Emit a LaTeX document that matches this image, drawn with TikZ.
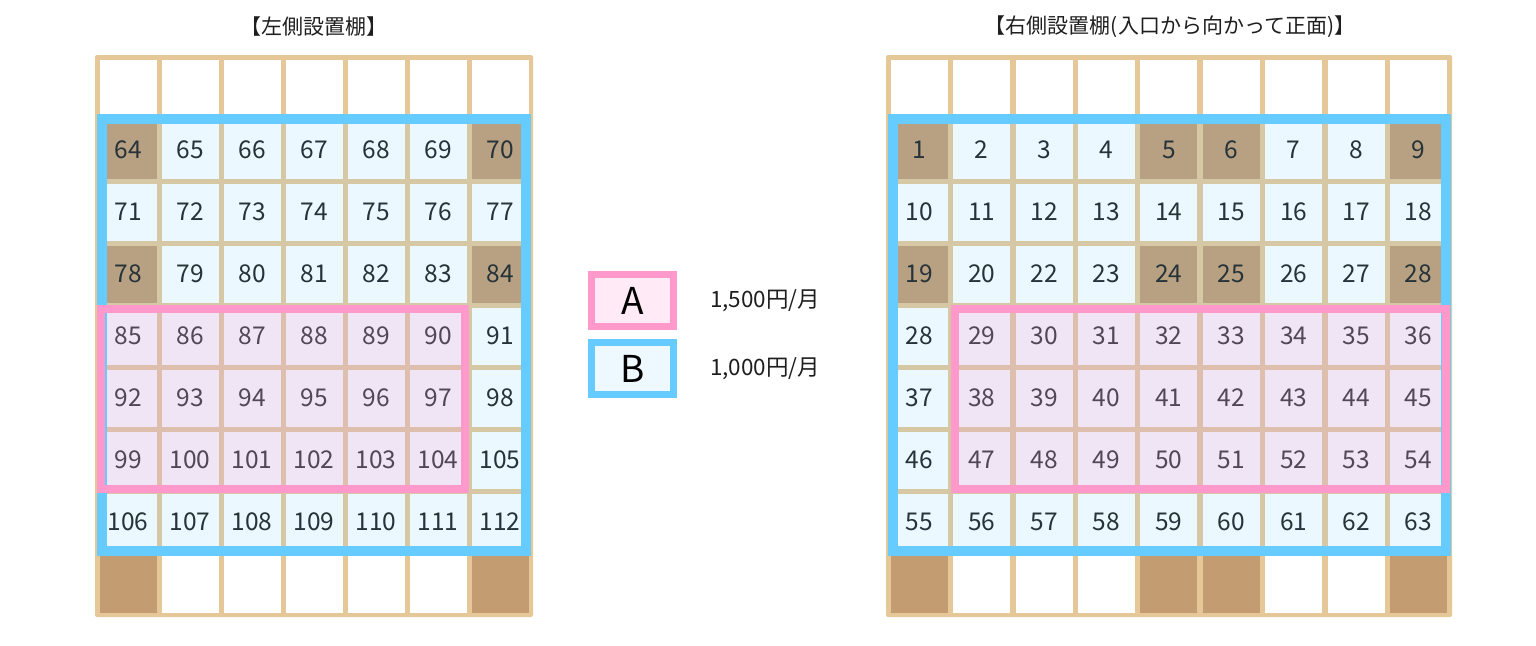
\documentclass[tikz,border=0pt]{standalone}
\usepackage{fontspec}
\setmainfont{Noto Sans CJK JP}
\usetikzlibrary{positioning}
\definecolor{shelf}{HTML}{E6C898}
\definecolor{shelfdark}{HTML}{C49C72}
\definecolor{zoneB}{HTML}{66CCFF}
\definecolor{zoneA}{HTML}{FF99CC}
\definecolor{legA}{HTML}{FFEAF5}
\definecolor{legB}{HTML}{EEF9FF}
\definecolor{numtext}{HTML}{1E1E1E}

\begin{document}
\begin{tikzpicture}[x=1pt,y=-1pt,
   cell/.style={minimum width=57pt,minimum height=57pt,inner sep=0pt,text=numtext,
     font=\fontsize{24.5}{24.5}\selectfont},
   heading/.style={text=numtext,font=\fontsize{21}{21}\selectfont},
   legbox/.style={draw,line width=7pt,minimum width=82pt,minimum height=52pt,inner sep=0pt,
     font=\fontsize{37}{37}\selectfont},
   price/.style={text=numtext,font=\fontsize{22.5}{22.5}\selectfont,inner sep=0pt},
   zone/.style={line width=#1}]
  \useasboundingbox (0,0) rectangle (1536,645);
  % headings
  \node[heading] (tleft) at (314,27) {【左側設置棚】};
  \node[heading] (tright) at (1170,27) {【右側設置棚(入口から向かって正面)】};

  % left shelf (7 x 9)
  \fill[shelf,rounded corners=2pt] (95,55) rectangle (533,617);
  \foreach \c in {0,...,6}{
    \ifnum\c=0 \def\cf{shelfdark}\else\ifnum\c=6 \def\cf{shelfdark}\else\def\cf{white}\fi\fi
    \node[cell,fill=white] (L0-\c) at ({128+62*\c},88) {};
    \node[cell,fill=\cf] (L8-\c) at ({128+62*\c},584) {};
  }
  \foreach \r in {1,...,7}
    \foreach \c in {0,...,6}{
      \pgfmathtruncatemacro\n{64+7*(\r-1)+\c}
      \pgfmathtruncatemacro\dk{((\r==1)||(\r==3))&&((\c==0)||(\c==6))}
      \ifnum\dk=1 \def\cf{shelfdark}\else\def\cf{white}\fi
      \node[cell,fill=\cf] (L\r-\c) at ({128+62*\c},{88+62*\r}) {\n};
    }

  % right shelf (9 x 9)
  \fill[shelf,rounded corners=2pt] (886,55) rectangle (1452,617);
  \foreach \c in {0,...,8}{
    \pgfmathtruncatemacro\dk{(\c==0)||(\c==4)||(\c==5)||(\c==8)}
    \ifnum\dk=1 \def\cf{shelfdark}\else\def\cf{white}\fi
    \node[cell,fill=white] (R0-\c) at ({919.2+62.4*\c},88) {};
    \node[cell,fill=\cf] (R8-\c) at ({919.2+62.4*\c},584) {};
  }
  \foreach \r in {1,...,7}
    \foreach \c in {0,...,8}{
      % slot 21 is skipped in the third row
      \ifnum\r=3 \pgfmathtruncatemacro\n{19+\c+(\c>=2)}%
      \else \pgfmathtruncatemacro\n{9*(\r-1)+\c+1}\fi
      \pgfmathtruncatemacro\dk{((\r==1)||(\r==3))&&((\c==0)||(\c==4)||(\c==5)||(\c==8))}
      \ifnum\dk=1 \def\cf{shelfdark}\else\def\cf{white}\fi
      \node[cell,fill=\cf] (R\r-\c) at ({919.2+62.4*\c},{88+62*\r}) {\n};
    }

  % price zones (tint, then frame)
  \fill[zoneB,opacity=.12] (102,119) rectangle (526,551);
  \fill[zoneA,opacity=.2] (101,309) rectangle (465,489);
  \draw[zoneB,zone=10pt] (102,119) rectangle (526,551);
  \draw[zoneA,zone=8pt] (101,309) rectangle (465,489);

  \fill[zoneB,opacity=.12] (893,119) rectangle (1446,551);
  \fill[zoneA,opacity=.2] (955,309) rectangle (1446,489);
  \draw[zoneB,zone=10pt] (893,119) rectangle (1446,551);
  \draw[zoneA,zone=8pt] (955,309) rectangle (1446,489);

  % legend
  \node[legbox,draw=zoneA,fill=legA] (legA) at (632.5,300.5) {A};
  \node[legbox,draw=zoneB,fill=legB,below=9pt of legA] (legB) {B};
  \node[price,anchor=west,right=33pt of legA] (pA) {1,500円/月};
  \node[price,anchor=west,right=33pt of legB] (pB) {1,000円/月};
\end{tikzpicture}
\end{document}
